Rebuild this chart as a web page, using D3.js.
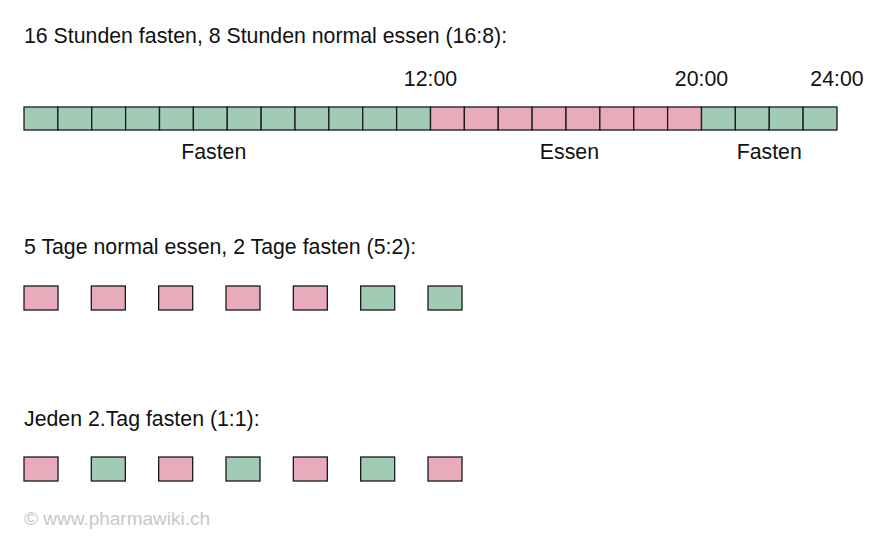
<!DOCTYPE html>
<html>
<head>
<meta charset="utf-8">
<script src="https://cdn.jsdelivr.net/npm/d3@7"></script>
<style>
  body { margin: 0; background: #fff; }
  text { font-family: "Liberation Sans", Arial, sans-serif; fill: #111; }
</style>
</head>
<body>
<svg width="890" height="548"></svg>
<script>
// 16:8 – one cell per hour
const hours = d3.range(24);
const eatStart = 12;
const eatEnd = 20;
const hourTicks = [12, 20, 24];
const hourTickLabels = ["12:00", "20:00", "24:00"];
const phaseLabels = ["Fasten", "Essen", "Fasten"];
const phasePos = [5.6, 16.1, 22];

// 5:2 and 1:1 – one cell per day
const days = d3.range(7);
const week52 = ["essen", "essen", "essen", "essen", "essen", "fasten", "fasten"];
const week11 = ["essen", "fasten", "essen", "fasten", "essen", "fasten", "essen"];

const titles = [
  "16 Stunden fasten, 8 Stunden normal essen (16:8):",
  "5 Tage normal essen, 2 Tage fasten (5:2):",
  "Jeden 2.Tag fasten (1:1):"
];

const svg = d3.select("svg");
const green = "#a2cbb5";
const pink = "#e8abbb";
const color = (s) => (s === "fasten" ? green : pink);
const fs = 21.3;

const xHour = d3.scaleLinear().domain([0, 24]).range([24, 837]);
const xDay = d3.scaleBand().domain(days).range([24, 462]).paddingInner(0.495).paddingOuter(0);

const titleY = [43, 254, 426];
svg.selectAll("text.title")
  .data(titles)
  .enter()
  .append("text")
  .attr("class", "title")
  .attr("x", 24)
  .attr("y", (d, i) => titleY[i])
  .attr("font-size", fs)
  .text((d) => d);

// row 1
const row1 = svg.append("g");
row1.selectAll("rect")
  .data(hours)
  .enter()
  .append("rect")
  .attr("x", (d) => xHour(d))
  .attr("y", 107)
  .attr("width", xHour(1) - xHour(0))
  .attr("height", 23)
  .attr("fill", (d) => (d >= eatStart && d < eatEnd ? pink : green))
  .attr("stroke", "#1a1a1a")
  .attr("stroke-width", 1.3);

row1.selectAll("text.tick")
  .data(hourTicks)
  .enter()
  .append("text")
  .attr("class", "tick")
  .attr("x", (d) => xHour(d))
  .attr("y", 86)
  .attr("text-anchor", "middle")
  .attr("font-size", fs)
  .text((d, i) => hourTickLabels[i]);

row1.selectAll("text.phase")
  .data(phaseLabels)
  .enter()
  .append("text")
  .attr("class", "phase")
  .attr("x", (d, i) => xHour(phasePos[i]))
  .attr("y", 159)
  .attr("text-anchor", "middle")
  .attr("font-size", fs)
  .text((d) => d);

// rows 2 and 3
function dayRow(data, y) {
  svg.append("g")
    .selectAll("rect")
    .data(data)
    .enter()
    .append("rect")
    .attr("x", (d, i) => xDay(i))
    .attr("y", y)
    .attr("width", xDay.bandwidth())
    .attr("height", 24)
    .attr("fill", (d) => color(d))
    .attr("stroke", "#1a1a1a")
    .attr("stroke-width", 1.3);
}
dayRow(week52, 286);
dayRow(week11, 457);

svg.append("text")
  .attr("x", 24)
  .attr("y", 525)
  .attr("font-size", 19)
  .style("fill", "#c8c8c8")
  .text("© www.pharmawiki.ch");
</script>
</body>
</html>
